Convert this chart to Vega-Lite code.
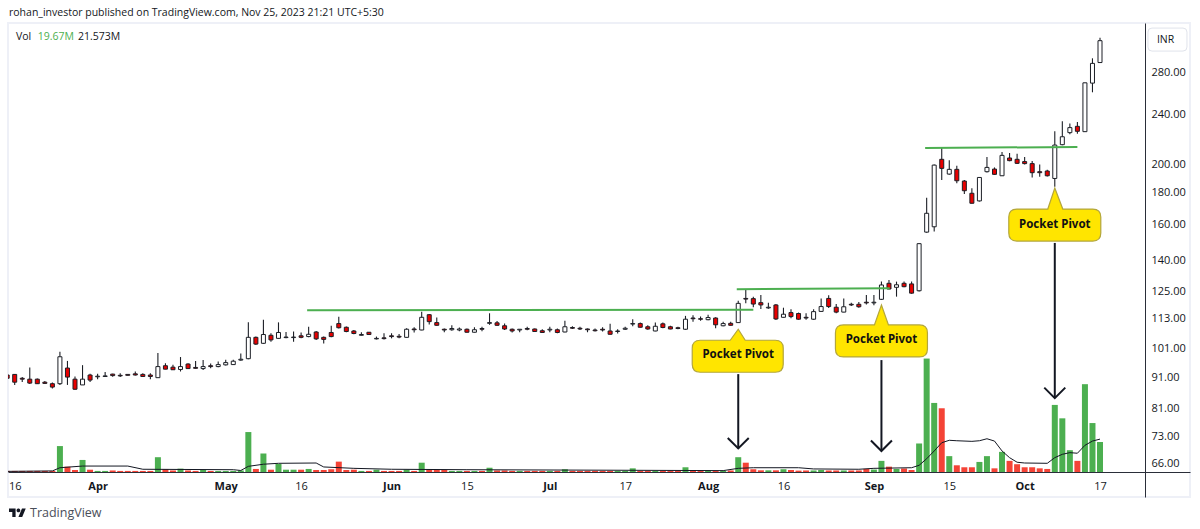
{
"$schema":"https://vega.github.io/schema/vega-lite/v6.json",
"description":"daily candles with volume and pocket pivot notes",
"autosize":{"type":"none"},
"padding":{"left":8,"top":23,"right":10,"bottom":32},
"width":1182,
"height":474,
"background":"#ffffff",
"config":{"view":{"stroke":"#eef0f7","strokeWidth":2},"font":"Open Sans"},
"title":{"text":"rohan_investor published on TradingView.com, Nov 25, 2023 21:21 UTC+5:30","anchor":"start","offset":5,"dx":1,"fontSize":10.5,"fontWeight":"normal","color":"#131722","font":"Open Sans"},
"datasets":{
"candles":[
{"i":-1,"open":91.7,"high":92.0,"low":90.1,"close":90.6,"volume":0.7},
{"i":0,"open":91.9,"high":92.0,"low":88.4,"close":89.3,"volume":0.7},
{"i":1,"open":90.6,"high":91.0,"low":89.4,"close":90.3,"volume":0.7},
{"i":2,"open":90.3,"high":94.3,"low":88.7,"close":89.0,"volume":0.7},
{"i":3,"open":90.3,"high":90.5,"low":88.7,"close":88.8,"volume":0.7},
{"i":4,"open":89.3,"high":89.7,"low":88.7,"close":88.9,"volume":0.7},
{"i":5,"open":88.8,"high":89.2,"low":87.2,"close":87.7,"volume":0.7},
{"i":6,"open":88.8,"high":99.9,"low":88.4,"close":98.1,"volume":17.0},
{"i":7,"open":94.1,"high":96.6,"low":88.4,"close":91.0,"volume":3.5},
{"i":8,"open":90.3,"high":91.2,"low":86.8,"close":87.0,"volume":1.3},
{"i":9,"open":88.4,"high":95.1,"low":88.4,"close":90.3,"volume":7.9},
{"i":10,"open":91.7,"high":92.1,"low":89.4,"close":90.0,"volume":1.5},
{"i":11,"open":91.1,"high":92.1,"low":90.3,"close":91.3,"volume":0.7},
{"i":12,"open":91.2,"high":92.7,"low":91.1,"close":91.4,"volume":0.7},
{"i":13,"open":92.0,"high":92.1,"low":91.1,"close":91.5,"volume":1.0},
{"i":14,"open":91.6,"high":92.3,"low":91.0,"close":91.4,"volume":0.7},
{"i":15,"open":91.9,"high":91.9,"low":91.5,"close":91.6,"volume":0.7},
{"i":16,"open":92.1,"high":92.9,"low":91.5,"close":91.7,"volume":0.7},
{"i":17,"open":91.9,"high":92.3,"low":91.1,"close":91.2,"volume":0.7},
{"i":18,"open":91.7,"high":92.3,"low":90.3,"close":91.2,"volume":0.7},
{"i":19,"open":90.8,"high":99.5,"low":90.8,"close":94.6,"volume":9.7},
{"i":20,"open":94.9,"high":95.8,"low":93.7,"close":93.7,"volume":1.8},
{"i":21,"open":94.4,"high":95.2,"low":93.4,"close":93.5,"volume":1.0},
{"i":22,"open":93.6,"high":98.0,"low":92.9,"close":94.6,"volume":2.2},
{"i":23,"open":95.5,"high":95.8,"low":93.8,"close":93.9,"volume":1.0},
{"i":24,"open":94.3,"high":96.6,"low":93.9,"close":94.0,"volume":0.7},
{"i":25,"open":93.9,"high":96.9,"low":93.4,"close":94.6,"volume":1.3},
{"i":26,"open":94.9,"high":95.7,"low":94.0,"close":94.6,"volume":0.7},
{"i":27,"open":94.6,"high":96.4,"low":94.4,"close":95.3,"volume":0.7},
{"i":28,"open":95.2,"high":97.0,"low":95.0,"close":96.0,"volume":0.7},
{"i":29,"open":95.3,"high":97.0,"low":95.2,"close":96.5,"volume":0.7},
{"i":30,"open":96.9,"high":99.3,"low":96.7,"close":97.2,"volume":1.0},
{"i":31,"open":97.4,"high":111.4,"low":97.2,"close":105.4,"volume":26.2},
{"i":32,"open":105.4,"high":105.7,"low":102.5,"close":102.8,"volume":2.0},
{"i":33,"open":103.1,"high":112.5,"low":102.9,"close":106.5,"volume":12.1},
{"i":34,"open":106.2,"high":107.0,"low":103.7,"close":104.4,"volume":1.5},
{"i":35,"open":105.0,"high":111.4,"low":104.9,"close":107.3,"volume":5.3},
{"i":36,"open":105.3,"high":107.5,"low":105.0,"close":105.5,"volume":1.5},
{"i":37,"open":105.3,"high":107.7,"low":103.7,"close":105.5,"volume":1.5},
{"i":38,"open":106.0,"high":107.3,"low":105.0,"close":105.4,"volume":1.5},
{"i":39,"open":105.7,"high":109.6,"low":105.4,"close":106.6,"volume":2.0},
{"i":40,"open":107.5,"high":107.9,"low":104.4,"close":104.8,"volume":1.3},
{"i":41,"open":105.4,"high":105.7,"low":103.0,"close":104.6,"volume":1.3},
{"i":42,"open":107.3,"high":110.0,"low":105.4,"close":105.7,"volume":1.8},
{"i":43,"open":110.9,"high":113.7,"low":108.9,"close":109.2,"volume":6.8},
{"i":44,"open":109.4,"high":109.7,"low":107.4,"close":107.7,"volume":1.3},
{"i":45,"open":107.9,"high":108.3,"low":106.6,"close":106.9,"volume":1.5},
{"i":46,"open":106.2,"high":107.4,"low":106.1,"close":106.5,"volume":0.7},
{"i":47,"open":107.4,"high":107.5,"low":106.4,"close":106.5,"volume":0.7},
{"i":48,"open":104.8,"high":105.7,"low":104.6,"close":105.0,"volume":1.5},
{"i":49,"open":105.2,"high":107.0,"low":104.6,"close":104.9,"volume":0.7},
{"i":50,"open":106.0,"high":107.0,"low":105.0,"close":105.7,"volume":0.7},
{"i":51,"open":105.8,"high":106.7,"low":105.0,"close":105.5,"volume":0.7},
{"i":52,"open":105.4,"high":109.0,"low":105.3,"close":108.6,"volume":1.5},
{"i":53,"open":108.7,"high":109.4,"low":107.3,"close":108.4,"volume":0.7},
{"i":54,"open":108.3,"high":115.9,"low":108.2,"close":113.5,"volume":6.1},
{"i":55,"open":114.6,"high":114.9,"low":110.5,"close":111.7,"volume":1.3},
{"i":56,"open":111.3,"high":113.4,"low":110.0,"close":110.2,"volume":1.3},
{"i":57,"open":108.6,"high":108.9,"low":107.4,"close":108.3,"volume":1.3},
{"i":58,"open":108.4,"high":110.2,"low":108.0,"close":108.9,"volume":0.7},
{"i":59,"open":108.3,"high":109.3,"low":107.8,"close":108.7,"volume":0.7},
{"i":60,"open":108.6,"high":108.9,"low":107.3,"close":107.4,"volume":0.7},
{"i":61,"open":107.4,"high":109.4,"low":107.3,"close":108.4,"volume":0.7},
{"i":62,"open":108.9,"high":109.6,"low":107.8,"close":108.6,"volume":0.7},
{"i":63,"open":111.0,"high":115.2,"low":110.4,"close":111.3,"volume":2.8},
{"i":64,"open":111.2,"high":112.0,"low":110.0,"close":110.2,"volume":1.0},
{"i":65,"open":110.0,"high":110.9,"low":108.3,"close":108.7,"volume":1.0},
{"i":66,"open":108.6,"high":108.9,"low":107.3,"close":107.9,"volume":0.7},
{"i":67,"open":108.3,"high":108.6,"low":107.4,"close":108.6,"volume":0.7},
{"i":68,"open":108.9,"high":109.6,"low":108.2,"close":108.6,"volume":0.7},
{"i":69,"open":108.7,"high":108.9,"low":107.5,"close":107.7,"volume":0.7},
{"i":70,"open":108.0,"high":108.6,"low":107.1,"close":107.3,"volume":0.7},
{"i":71,"open":108.3,"high":109.6,"low":107.4,"close":108.6,"volume":0.7},
{"i":72,"open":108.4,"high":108.9,"low":107.0,"close":107.3,"volume":0.7},
{"i":73,"open":107.5,"high":112.1,"low":107.4,"close":109.6,"volume":1.8},
{"i":74,"open":109.3,"high":109.8,"low":108.7,"close":109.0,"volume":0.7},
{"i":75,"open":109.0,"high":109.6,"low":108.3,"close":108.7,"volume":0.7},
{"i":76,"open":108.7,"high":108.9,"low":107.4,"close":108.4,"volume":0.7},
{"i":77,"open":108.3,"high":108.9,"low":107.7,"close":108.0,"volume":0.7},
{"i":78,"open":108.6,"high":109.4,"low":107.7,"close":108.3,"volume":0.7},
{"i":79,"open":107.9,"high":110.8,"low":106.5,"close":106.6,"volume":0.7},
{"i":80,"open":107.7,"high":108.6,"low":106.9,"close":107.9,"volume":0.7},
{"i":81,"open":108.6,"high":109.6,"low":108.3,"close":109.0,"volume":0.7},
{"i":82,"open":110.7,"high":112.7,"low":109.8,"close":110.9,"volume":2.4},
{"i":83,"open":110.9,"high":111.3,"low":109.3,"close":109.4,"volume":0.7},
{"i":84,"open":109.6,"high":110.2,"low":108.4,"close":108.7,"volume":0.7},
{"i":85,"open":107.9,"high":111.3,"low":107.8,"close":109.8,"volume":0.7},
{"i":86,"open":110.8,"high":111.3,"low":109.0,"close":109.3,"volume":0.7},
{"i":87,"open":109.6,"high":110.0,"low":108.6,"close":108.7,"volume":0.7},
{"i":88,"open":109.2,"high":109.6,"low":108.6,"close":108.9,"volume":0.7},
{"i":89,"open":108.6,"high":114.1,"low":108.4,"close":112.7,"volume":3.1},
{"i":90,"open":113.2,"high":114.4,"low":111.6,"close":112.9,"volume":0.7},
{"i":91,"open":112.9,"high":113.8,"low":112.1,"close":112.7,"volume":0.7},
{"i":92,"open":112.5,"high":114.6,"low":112.3,"close":113.4,"volume":1.0},
{"i":93,"open":113.2,"high":113.5,"low":109.0,"close":110.4,"volume":0.7},
{"i":94,"open":110.0,"high":111.7,"low":109.8,"close":110.9,"volume":0.7},
{"i":95,"open":111.0,"high":111.6,"low":110.1,"close":110.2,"volume":1.0},
{"i":96,"open":111.3,"high":120.7,"low":111.2,"close":119.5,"volume":9.7},
{"i":97,"open":121.7,"high":125.6,"low":119.5,"close":121.4,"volume":6.1},
{"i":98,"open":121.6,"high":122.5,"low":117.8,"close":119.2,"volume":1.8},
{"i":99,"open":119.8,"high":123.2,"low":117.0,"close":118.8,"volume":1.1},
{"i":100,"open":117.5,"high":119.8,"low":117.1,"close":117.8,"volume":1.1},
{"i":101,"open":118.8,"high":119.2,"low":112.4,"close":112.8,"volume":1.1},
{"i":102,"open":113.5,"high":117.6,"low":113.4,"close":114.8,"volume":1.8},
{"i":103,"open":115.5,"high":116.9,"low":113.1,"close":113.8,"volume":1.3},
{"i":104,"open":115.1,"high":115.5,"low":112.5,"close":112.7,"volume":0.9},
{"i":105,"open":113.5,"high":115.2,"low":112.5,"close":113.2,"volume":1.0},
{"i":106,"open":112.7,"high":116.9,"low":112.5,"close":115.9,"volume":1.0},
{"i":107,"open":116.0,"high":121.7,"low":115.9,"close":118.1,"volume":1.3},
{"i":108,"open":121.7,"high":123.1,"low":117.5,"close":118.1,"volume":1.0},
{"i":109,"open":117.8,"high":119.2,"low":115.2,"close":115.7,"volume":1.0},
{"i":110,"open":115.7,"high":121.7,"low":115.6,"close":118.0,"volume":1.0},
{"i":111,"open":119.1,"high":119.8,"low":118.3,"close":118.8,"volume":1.0},
{"i":112,"open":119.1,"high":120.1,"low":117.6,"close":118.0,"volume":1.0},
{"i":113,"open":120.0,"high":123.3,"low":119.0,"close":119.7,"volume":2.0},
{"i":114,"open":119.7,"high":123.2,"low":118.7,"close":120.0,"volume":1.6},
{"i":115,"open":121.3,"high":129.5,"low":121.0,"close":127.9,"volume":7.3},
{"i":116,"open":128.7,"high":130.3,"low":125.9,"close":126.0,"volume":3.5},
{"i":117,"open":126.8,"high":129.5,"low":122.5,"close":128.0,"volume":2.0},
{"i":118,"open":128.7,"high":129.6,"low":126.8,"close":127.1,"volume":2.3},
{"i":119,"open":128.4,"high":129.5,"low":123.8,"close":124.1,"volume":1.3},
{"i":120,"open":125.2,"high":149.2,"low":124.8,"close":149.0,"volume":18.7},
{"i":121,"open":155.5,"high":176.6,"low":155.1,"close":166.7,"volume":74.4},
{"i":122,"open":158.6,"high":199.7,"low":155.8,"close":199.2,"volume":45.3},
{"i":123,"open":203.5,"high":212.5,"low":188.5,"close":196.8,"volume":41.8},
{"i":124,"open":192.7,"high":202.8,"low":192.2,"close":196.1,"volume":10.4},
{"i":125,"open":196.1,"high":198.7,"low":186.2,"close":188.0,"volume":4.4},
{"i":126,"open":187.8,"high":188.5,"low":179.1,"close":181.2,"volume":3.1},
{"i":127,"open":179.5,"high":182.8,"low":172.8,"close":173.0,"volume":3.1},
{"i":128,"open":174.5,"high":190.3,"low":174.1,"close":190.3,"volume":6.6},
{"i":129,"open":194.4,"high":205.3,"low":193.9,"close":197.5,"volume":10.4},
{"i":130,"open":196.3,"high":197.5,"low":192.2,"close":192.5,"volume":2.4},
{"i":131,"open":191.5,"high":209.0,"low":191.3,"close":206.5,"volume":13.2},
{"i":132,"open":204.5,"high":208.3,"low":202.0,"close":202.5,"volume":7.3},
{"i":133,"open":203.5,"high":207.8,"low":200.1,"close":200.5,"volume":5.1},
{"i":134,"open":201.8,"high":205.3,"low":199.7,"close":200.3,"volume":3.1},
{"i":135,"open":200.3,"high":202.3,"low":190.3,"close":193.7,"volume":3.1},
{"i":136,"open":194.4,"high":199.7,"low":190.8,"close":193.7,"volume":2.4},
{"i":137,"open":194.9,"high":195.8,"low":191.0,"close":191.5,"volume":2.0},
{"i":138,"open":189.6,"high":225.7,"low":183.9,"close":214.5,"volume":44.0},
{"i":139,"open":214.8,"high":234.2,"low":214.3,"close":221.2,"volume":35.2},
{"i":140,"open":224.6,"high":232.4,"low":223.2,"close":228.8,"volume":14.3},
{"i":141,"open":229.9,"high":233.5,"low":223.6,"close":225.7,"volume":7.3},
{"i":142,"open":225.4,"high":270.0,"low":225.1,"close":270.0,"volume":57.6},
{"i":143,"open":269.7,"high":295.6,"low":260.7,"close":290.1,"volume":32.1},
{"i":144,"open":291.0,"high":319.0,"low":290.7,"close":315.5,"volume":19.67}
],
"volumeMa":[
{"i":-1,"ma":0.4},{"i":5,"ma":0.7},{"i":6,"ma":2.8},{"i":9,"ma":3.9},{"i":15,"ma":3.9},{"i":17,"ma":1.8},{"i":29,"ma":1.5},{"i":30,"ma":1.0},{"i":31,"ma":3.7},{"i":33,"ma":5.1},{"i":35,"ma":5.7},{"i":40,"ma":5.9},{"i":41,"ma":3.3},{"i":45,"ma":2.4},{"i":50,"ma":1.8},{"i":60,"ma":1.5},{"i":94,"ma":0.9},{"i":96,"ma":2.4},{"i":98,"ma":2.8},{"i":104,"ma":2.8},{"i":106,"ma":2.0},{"i":112,"ma":1.8},{"i":114,"ma":2.4},{"i":119,"ma":2.8},{"i":120,"ma":4.4},{"i":121,"ma":8.7},{"i":122,"ma":13.8},{"i":123,"ma":19.2},{"i":124,"ma":20.8},{"i":125,"ma":20.5},{"i":127,"ma":20.1},{"i":128,"ma":20.5},{"i":129,"ma":21.8},{"i":130,"ma":20.3},{"i":131,"ma":13.8},{"i":132,"ma":9.4},{"i":133,"ma":6.4},{"i":134,"ma":5.9},{"i":137,"ma":5.7},{"i":138,"ma":9.4},{"i":139,"ma":11.6},{"i":140,"ma":12.7},{"i":141,"ma":12.3},{"i":142,"ma":17.5},{"i":143,"ma":20.3},{"i":144,"ma":21.57}
],
"trendlines":[
{"line":"a","i":38.8,"price":116.5},{"line":"a","i":98,"price":116.7},
{"line":"b","i":95.8,"price":125.9},{"line":"b","i":116.1,"price":126.4},
{"line":"c","i":120.8,"price":212.2},{"line":"c","i":141,"price":213.0}
],
"arrows":[
{"i":96,"from":92.0,"to":69.9},
{"i":115,"from":96.9,"to":69.25},
{"i":138,"from":149.4,"to":84.2}
],
"callouts":[
{"id":"first","i":96,"tip":108.6,"labelAt":98.7},
{"id":"second","i":115,"tip":118.8,"labelAt":104.5},
{"id":"third","i":138,"tip":183.0,"labelAt":159.6}
],
"legendText":[
{"i":0.17,"price":319.8,"text":"Vol","kind":"name"},
{"i":3.05,"price":319.8,"text":"19.67M","kind":"up"},
{"i":8.4,"price":319.8,"text":"21.573M","kind":"name"}
]
},
"encoding":{
"x":{"field":"i","type":"quantitative","title":null,
"scale":{"domain":[-0.889,155.94],"nice":false,"zero":false,"padding":0},
"axis":{"orient":"bottom","offset":-25,"grid":false,"ticks":false,"zindex":1,"domainColor":"#2a2e39","domainWidth":1,"labelColor":"#131722","labelFontSize":11,"labelPadding":8,"labelOverlap":false,"labelFlush":false,
"values":[0,11,28,38,50,60,71,81,92,102,114,124,134,144],
"labelExpr":"['16','Apr','May','16','Jun','15','Jul','17','Aug','16','Sep','15','Oct','17'][indexof([0,11,28,38,50,60,71,81,92,102,114,124,134,144],datum.value)]",
"labelFontWeight":{"condition":{"test":"indexof([11,28,50,71,92,114,134],datum.value)>=0","value":"bold"},"value":"normal"}}}
},
"layer":[
{"layer":[
{"data":{"name":"candles"},"mark":{"type":"bar","size":6,"clip":true},
"encoding":{"y":{"field":"volume","type":"quantitative","stack":null,"axis":null,"scale":{"domain":[-16.4,294.5],"nice":false,"zero":false}},
"color":{"condition":{"test":"datum.close>=datum.open","value":"#4caf50"},"value":"#f44336"}}},
{"data":{"name":"volumeMa"},"mark":{"type":"line","color":"#131722","strokeWidth":1,"clip":true},
"encoding":{"y":{"field":"ma","type":"quantitative","axis":null,"scale":{"domain":[-16.4,294.5],"nice":false,"zero":false}}}}
]},
{"layer":[
{"data":{"name":"candles"},"mark":{"type":"rule","color":"#1c1f26","strokeWidth":1.1,"clip":true},
"encoding":{"y":{"field":"high","type":"quantitative","title":null,"scale":{"type":"log","domain":[58.42,336.8],"nice":false},
"axis":{"orient":"right","offset":-45,"grid":false,"ticks":false,"zindex":1,"domainColor":"#2a2e39","domainWidth":1,"labelColor":"#131722","labelFontSize":11,"labelPadding":6,"format":".2f","labelOverlap":false,"labelFlush":false,"values":[66,73,81,91,101,113,125,140,160,180,200,240,280]}},
"y2":{"field":"low"}}},
{"data":{"name":"candles"},"mark":{"type":"bar","size":4,"stroke":"#1c1f26","strokeWidth":1,"clip":true},
"encoding":{"y":{"field":"open","type":"quantitative","title":null,"stack":null,"scale":{"type":"log","domain":[58.42,336.8],"nice":false}},
"y2":{"field":"close"},
"fill":{"condition":{"test":"datum.close>=datum.open","value":"#ffffff"},"value":"#e80000"}}},
{"data":{"name":"trendlines"},"mark":{"type":"line","color":"#4caf50","strokeWidth":2},
"encoding":{"y":{"field":"price","type":"quantitative","title":null,"scale":{"type":"log","domain":[58.42,336.8],"nice":false}},"detail":{"field":"line"}}},
{"data":{"name":"arrows"},"mark":{"type":"rule","color":"#131722","strokeWidth":2},
"encoding":{"y":{"field":"from","type":"quantitative","title":null,"scale":{"type":"log","domain":[58.42,336.8],"nice":false}},"y2":{"field":"to"}}},
{"data":{"name":"arrows"},"mark":{"type":"point","shape":"M-1,-1L0,0L1,-1","filled":false,"stroke":"#131722","strokeWidth":2,"opacity":1,"size":441},
"encoding":{"y":{"field":"to","type":"quantitative","title":null,"scale":{"type":"log","domain":[58.42,336.8],"nice":false}}}},
{"data":{"name":"callouts"},"mark":{"type":"point","filled":true,"fill":"#ffe500","stroke":"#b3a63c","strokeWidth":1.2,"opacity":1,"size":40000},
"encoding":{"y":{"field":"tip","type":"quantitative","title":null,"scale":{"type":"log","domain":[58.42,336.8],"nice":false}},
"shape":{"field":"id","type":"nominal","legend":null,"scale":{"domain":["first","second","third"],"range":[
"M0,0L0.07,0.11L0.37,0.11Q0.45,0.11 0.45,0.19L0.45,0.35Q0.45,0.43 0.37,0.43L-0.38,0.43Q-0.46,0.43 -0.46,0.35L-0.46,0.19Q-0.46,0.11 -0.38,0.11L-0.08,0.11Z",
"M0,0L0.07,0.2L0.38,0.2Q0.46,0.2 0.46,0.28L0.46,0.44Q0.46,0.52 0.38,0.52L-0.38,0.52Q-0.46,0.52 -0.46,0.44L-0.46,0.28Q-0.46,0.2 -0.38,0.2L-0.07,0.2Z",
"M0,0L0.08,0.21L0.38,0.21Q0.46,0.21 0.46,0.29L0.46,0.45Q0.46,0.53 0.38,0.53L-0.38,0.53Q-0.46,0.53 -0.46,0.45L-0.46,0.29Q-0.46,0.21 -0.38,0.21L-0.07,0.21Z"
]}}}},
{"data":{"name":"callouts"},"mark":{"type":"text","text":"Pocket Pivot","fontSize":11.5,"fontWeight":"bold","color":"#111111","font":"Noto Sans","align":"center","baseline":"middle"},
"encoding":{"y":{"field":"labelAt","type":"quantitative","title":null,"scale":{"type":"log","domain":[58.42,336.8],"nice":false}}}},
{"data":{"name":"legendText"},"mark":{"type":"text","align":"left","baseline":"middle","fontSize":10.5,"font":"Open Sans"},
"encoding":{"y":{"field":"price","type":"quantitative","title":null,"scale":{"type":"log","domain":[58.42,336.8],"nice":false}},
"text":{"field":"text"},
"color":{"condition":{"test":"datum.kind=='up'","value":"#4caf50"},"value":"#131722"}}},
{"data":{"values":[{"i":152.95,"price":316.8}]},"mark":{"type":"point","shape":"M-0.195,-0.075Q-0.195,-0.115 -0.155,-0.115L0.155,-0.115Q0.195,-0.115 0.195,-0.075L0.195,0.075Q0.195,0.115 0.155,0.115L-0.155,0.115Q-0.195,0.115 -0.195,0.075Z","filled":true,"fill":"#ffffff","stroke":"#e0e3eb","strokeWidth":1,"opacity":1,"size":40000},
"encoding":{"y":{"field":"price","type":"quantitative","title":null,"scale":{"type":"log","domain":[58.42,336.8],"nice":false}}}},
{"data":{"values":[{"i":152.7,"price":316.8,"text":"INR"}]},"mark":{"type":"text","align":"center","baseline":"middle","fontSize":10.5,"color":"#131722"},
"encoding":{"y":{"field":"price","type":"quantitative","title":null,"scale":{"type":"log","domain":[58.42,336.8],"nice":false}},"text":{"field":"text"}}},
{"data":{"values":[{"i":0.37,"price":55.1}]},"mark":{"type":"point","shape":"M-0.189,0.425L-0.519,0.425L-0.519,-0.094L-0.85,-0.094L-0.85,-0.425L-0.189,-0.425ZM0.472,0.425L0.094,0.425L0.448,-0.425L0.826,-0.425ZM-0.095,-0.236A0.189,0.189 0 1,0 0.283,-0.236A0.189,0.189 0 1,0 -0.095,-0.236Z","filled":true,"fill":"#131722","opacity":1,"size":400},
"encoding":{"y":{"field":"price","type":"quantitative","title":null,"scale":{"type":"log","domain":[58.42,336.8],"nice":false}}}},
{"data":{"values":[{"i":2.03,"price":55.1,"text":"TradingView"}]},"mark":{"type":"text","align":"left","baseline":"middle","fontSize":12.5,"color":"#4a4e59"},
"encoding":{"y":{"field":"price","type":"quantitative","title":null,"scale":{"type":"log","domain":[58.42,336.8],"nice":false}},"text":{"field":"text"}}}
]}
],
"resolve":{"scale":{"y":"independent"}}
}
